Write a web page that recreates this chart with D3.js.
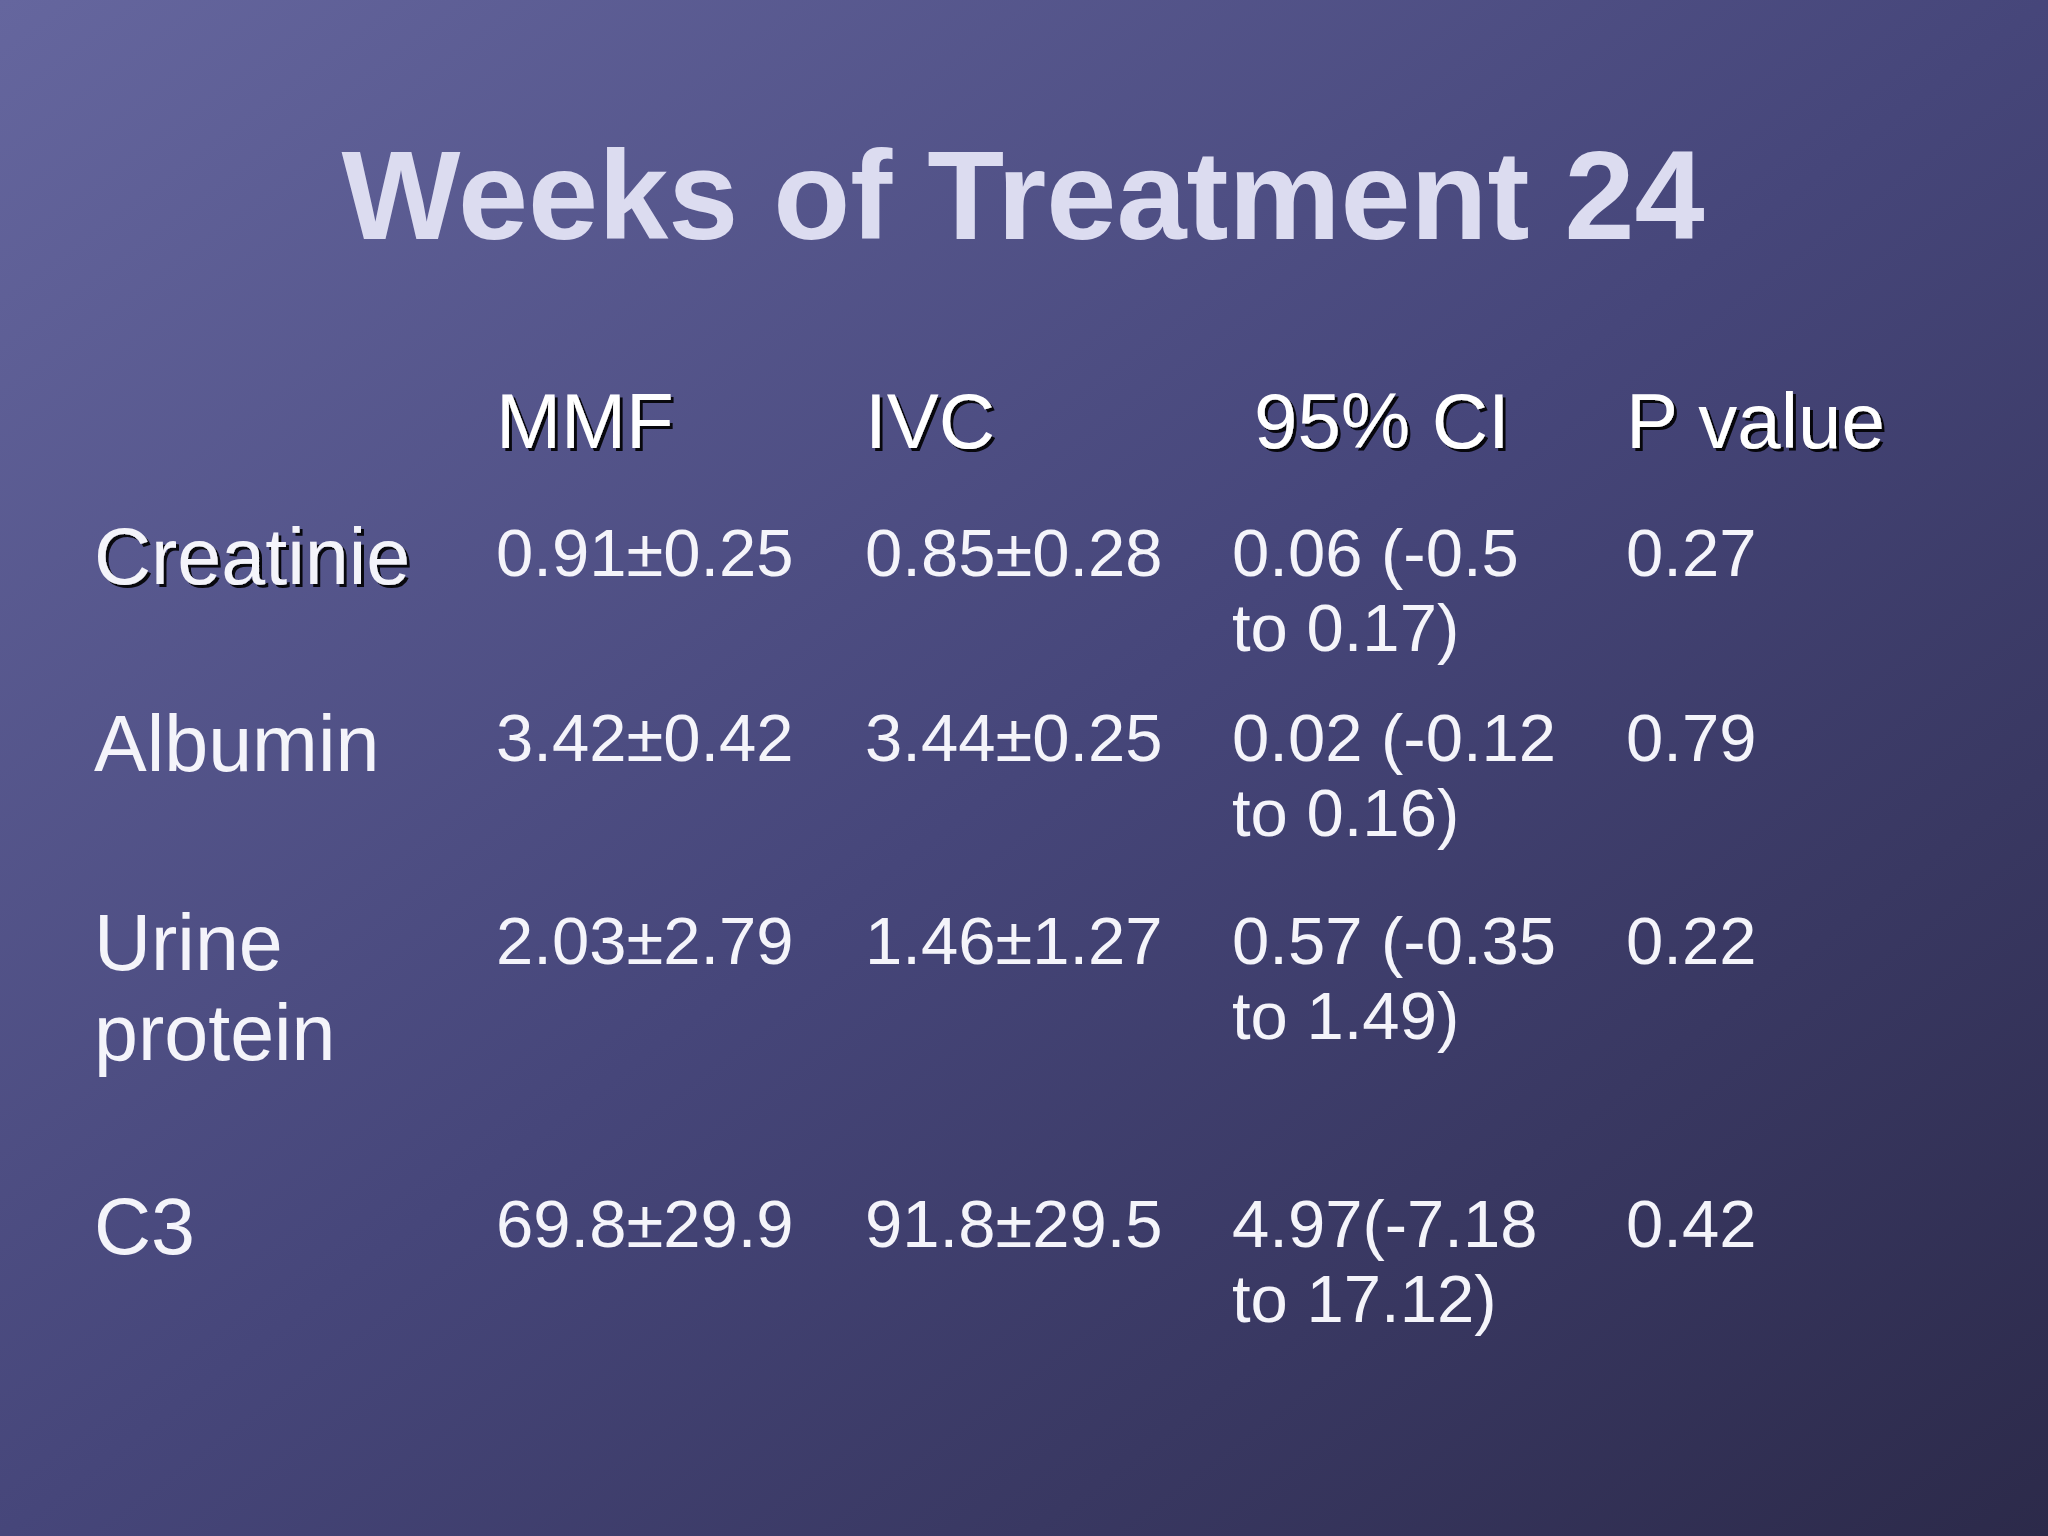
<!DOCTYPE html>
<html><head><meta charset="utf-8">
<script src="https://cdn.jsdelivr.net/npm/d3@7"></script>
<style>body{margin:0;background:#3f3e68}</style>
</head><body>
<script>
const title = "Weeks of Treatment 24";
const headers = ["MMF", "IVC", "95% CI", "P value"];
const rowLabels = [["Creatinie"], ["Albumin"], ["Urine", "protein"], ["C3"]];
const mmf = ["0.91±0.25", "3.42±0.42", "2.03±2.79", "69.8±29.9"];
const ivc = ["0.85±0.28", "3.44±0.25", "1.46±1.27", "91.8±29.5"];
const ci = [["0.06 (-0.5", "to 0.17)"], ["0.02 (-0.12", "to 0.16)"], ["0.57 (-0.35", "to 1.49)"], ["4.97(-7.18", "to 17.12)"]];
const pval = ["0.27", "0.79", "0.22", "0.42"];

const W = 2048, H = 1536;
const svg = d3.select("body").append("svg").attr("width", W).attr("height", H);
const defs = svg.append("defs");
const g = defs.append("linearGradient").attr("id", "bg").attr("x1", 0).attr("y1", 0).attr("x2", 1).attr("y2", 1);
g.append("stop").attr("offset", 0).attr("stop-color", "#65669e");
g.append("stop").attr("offset", 0.5).attr("stop-color", "#46467a");
g.append("stop").attr("offset", 1).attr("stop-color", "#2c2a4a");
svg.append("rect").attr("width", W).attr("height", H).attr("fill", "url(#bg)");
const sh = defs.append("filter").attr("id", "sh");
sh.append("feDropShadow").attr("dx", 3).attr("dy", 3).attr("stdDeviation", 0.5).attr("flood-color", "#000").attr("flood-opacity", 0.9);

const font = "Liberation Sans, Arial, sans-serif";
svg.append("text").attr("x", 1023).attr("y", 239).attr("text-anchor", "middle")
  .attr("font-family", font).attr("font-weight", "bold").attr("font-size", 126)
  .attr("fill", "#dcdcf0").text(title);

const colX = d3.scaleOrdinal().domain(["label", "mmf", "ivc", "ci", "p"]).range([94, 496, 865, 1232, 1626]);
const hx = [496, 865, 1254, 1626];
headers.forEach((h, i) => svg.append("text").attr("x", hx[i]).attr("y", 448)
  .attr("font-family", font).attr("font-size", 78).attr("fill", "#fff").attr("filter", "url(#sh)").text(h));

const rowY = d3.scaleOrdinal().domain([0, 1, 2, 3]).range([576, 761, 964, 1247]);
const lineH = 75;
const labelY = [584, 771, 970, 1254];
const txt = (x, y, s, size, f) => {
  const t = svg.append("text").attr("x", x).attr("y", y).attr("font-family", font)
    .attr("font-size", size).attr("fill", "#f4f4fa").text(s);
  if (f) t.attr("filter", "url(#sh)");
};
rowLabels.forEach((ls, i) => ls.forEach((s, j) => txt(colX("label"), labelY[i] + j * 90, s, 79, i === 0)));
[0, 1, 2, 3].forEach(i => {
  const y = rowY(i);
  txt(colX("mmf"), y, mmf[i], 67);
  txt(colX("ivc"), y, ivc[i], 67);
  ci[i].forEach((s, j) => txt(colX("ci"), y + j * lineH, s, 67));
  txt(colX("p"), y, pval[i], 67);
});
</script>
</body></html>
